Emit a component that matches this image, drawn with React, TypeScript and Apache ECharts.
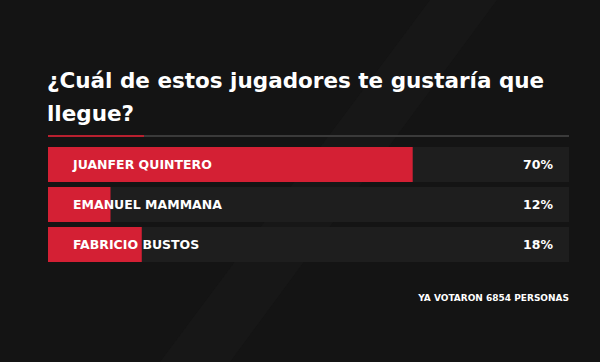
import React, { useEffect, useRef } from "react";
import * as echarts from "echarts";

const players = ["JUANFER QUINTERO", "EMANUEL MAMMANA", "FABRICIO BUSTOS"];
const percents = [70, 12, 18];
const fullScale = [100, 100, 100];
const titleText = "¿Cuál de estos jugadores te gustaría que\nllegue?";
const footerText = "YA VOTARON 6854 PERSONAS";

const FONT = "'DejaVu Sans', 'Open Sans', sans-serif";

export default function App() {
  const ref = useRef<HTMLDivElement>(null);
  useEffect(() => {
    if (!ref.current) return;
    const chart = echarts.init(ref.current, null, { renderer: "svg" });
    chart.setOption({
      animation: false,
      backgroundColor: "#141414",
      title: {
        text: titleText,
        left: 47,
        top: 64,
        padding: 0,
        textStyle: {
          color: "#ffffff",
          fontFamily: FONT,
          fontWeight: "bold",
          fontSize: 21.5,
          lineHeight: 33,
        },
      },
      graphic: [
        {
          type: "polygon",
          z: -10,
          silent: true,
          shape: { points: [[430, 0], [497, 0], [230, 362], [160, 362]] },
          style: { fill: "#171717" },
        },
        {
          type: "rect",
          shape: { x: 48, y: 135, width: 521, height: 2 },
          style: { fill: "#3a3a3a" },
        },
        {
          type: "rect",
          shape: { x: 48, y: 135, width: 96, height: 2 },
          style: { fill: "#b8202f" },
        },
        {
          type: "text",
          right: 31,
          top: 293,
          style: {
            text: footerText,
            fill: "#ffffff",
            font: `bold 9px ${FONT}`,
          },
        },
      ],
      grid: { left: 48, right: 31, top: 144.5, height: 120, containLabel: false },
      xAxis: { type: "value", min: 0, max: 100, show: false },
      yAxis: {
        type: "category",
        data: players,
        inverse: true,
        show: false,
      },
      series: [
        {
          type: "bar",
          data: fullScale,
          barWidth: 35,
          itemStyle: { color: "#1e1e1e" },
          silent: true,
          label: {
            show: true,
            position: "insideRight",
            distance: 16,
            formatter: (p: any) => percents[p.dataIndex] + "%",
            color: "#ffffff",
            fontFamily: FONT,
            fontWeight: "bold",
            fontSize: 12.5,
          },
        },
        {
          type: "bar",
          data: percents,
          barWidth: 35,
          barGap: "-100%",
          itemStyle: { color: "#d42034" },
          label: {
            show: true,
            position: "insideLeft",
            distance: 25,
            formatter: (p: any) => p.name,
            color: "#ffffff",
            fontFamily: FONT,
            fontWeight: "bold",
            fontSize: 12.5,
          },
        },
      ],
    });
    return () => chart.dispose();
  }, []);
  return <div ref={ref} style={{ width: 600, height: 362, position: "absolute", left: 0, top: 0 }} />;
}
